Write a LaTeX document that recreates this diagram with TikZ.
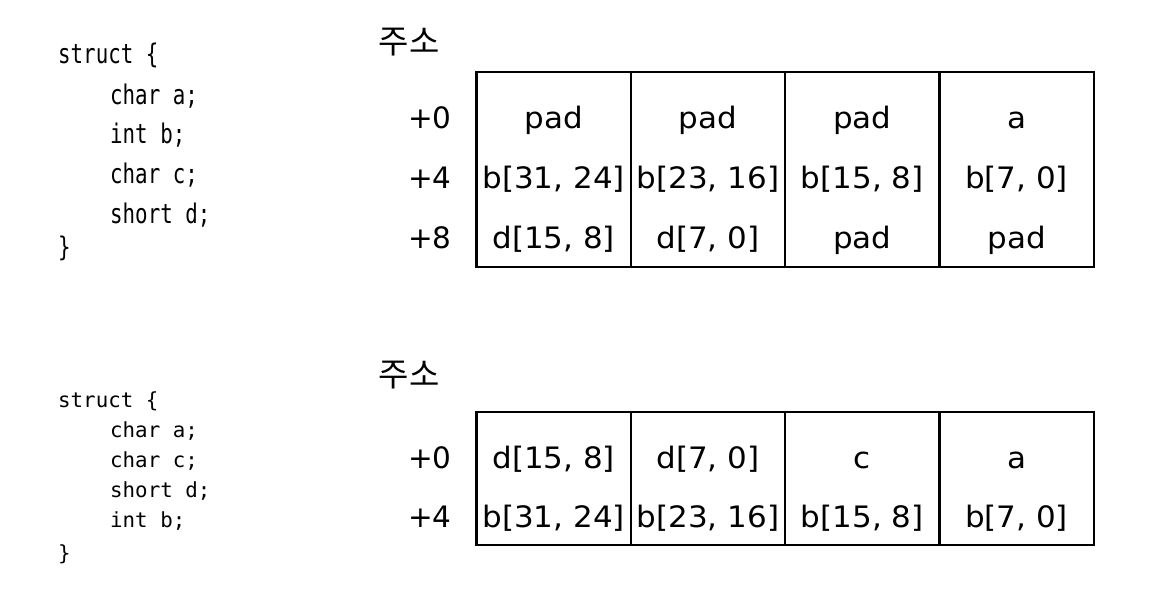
\documentclass[tikz,border=0pt]{standalone}
\usepackage{fontspec}
\usepackage{graphicx}
\setmainfont{DejaVu Sans}
\newfontfamily\codefont{DejaVu Sans Mono}
\newfontfamily\krfont{Noto Sans CJK KR}
\newcommand{\tallcode}[1]{\scalebox{1}[1.3]{#1}}
\newcommand{\widecell}[1]{\scalebox{1.05}[1]{#1}}
\begin{document}
\begin{tikzpicture}[x=1pt,y=-1pt,
  code/.style={anchor=base west,inner sep=0pt,font=\codefont\fontsize{20.8}{24}\selectfont},
  cell/.style={anchor=base,inner sep=0pt,font=\fontsize{29.5}{36}\selectfont},
  offs/.style={anchor=base,inner sep=0pt,font=\fontsize{29.5}{36}\selectfont},
  addr/.style={inner sep=0pt,font=\krfont\fontsize{33}{38}\selectfont},
  col/.style={draw,line width=2.2pt,inner sep=0pt,minimum width=154.3pt}]
\useasboundingbox (0,0) rectangle (1156,600);
\fill[white] (0,0) rectangle (1156,600);
% ---------- top struct ----------
\node[code] (s1l0) at (58,63) {\tallcode{struct \{}};
\node[code] (s1l1) at (110,104) {\tallcode{char a;}};
\node[code] (s1l2) at (110,143) {\tallcode{int b;}};
\node[code] (s1l3) at (110,183) {\tallcode{char c;}};
\node[code] (s1l4) at (110,223) {\tallcode{short d;}};
\node[code] (s1l5) at (58,256) {\tallcode{\}}};
\node[addr] (addr1) at (409,42) {주소};
\foreach \i/\cx in {1/553.7,2/708.0,3/862.3,4/1016.6}{
  \node[col,minimum height=195.5pt] (t1c\i) at (\cx,169.6) {};
}
\node[offs] (t1o0) at (430,128) {+0};
\node[offs] (t1o4) at (430,188) {+4};
\node[offs] (t1o8) at (430,248) {+8};
\node[cell] (t1r1c1) at (t1c1 |- 0,128) {\widecell{pad}};
\node[cell] (t1r1c2) at (t1c2 |- 0,128) {\widecell{pad}};
\node[cell] (t1r1c3) at (t1c3 |- 0,128) {\widecell{pad}};
\node[cell] (t1r1c4) at (t1c4 |- 0,128) {\widecell{a}};
\node[cell] (t1r2c1) at (t1c1 |- 0,188) {\widecell{b[31, 24]}};
\node[cell] (t1r2c2) at (t1c2 |- 0,188) {\widecell{b[23, 16]}};
\node[cell] (t1r2c3) at (t1c3 |- 0,188) {\widecell{b[15, 8]}};
\node[cell] (t1r2c4) at (t1c4 |- 0,188) {\widecell{b[7, 0]}};
\node[cell] (t1r3c1) at (t1c1 |- 0,248) {\widecell{d[15, 8]}};
\node[cell] (t1r3c2) at (t1c2 |- 0,248) {\widecell{d[7, 0]}};
\node[cell] (t1r3c3) at (t1c3 |- 0,248) {\widecell{pad}};
\node[cell] (t1r3c4) at (t1c4 |- 0,248) {\widecell{pad}};
% ---------- bottom struct ----------
\node[code] (s2l0) at (58,407) {struct \{};
\node[code] (s2l1) at (110,437) {char a;};
\node[code] (s2l2) at (110,467) {char c;};
\node[code] (s2l3) at (110,497) {short d;};
\node[code] (s2l4) at (110,527) {int b;};
\node[code] (s2l5) at (58,560) {\}};
\node[addr] (addr2) at (409,375) {주소};
\foreach \i/\cx in {1/553.7,2/708.0,3/862.3,4/1016.6}{
  \node[col,minimum height=133.3pt] (t2c\i) at (\cx,478.4) {};
}
\node[offs] (t2o0) at (430,468) {+0};
\node[offs] (t2o4) at (430,527) {+4};
\node[cell] (t2r1c1) at (t2c1 |- 0,468) {\widecell{d[15, 8]}};
\node[cell] (t2r1c2) at (t2c2 |- 0,468) {\widecell{d[7, 0]}};
\node[cell] (t2r1c3) at (t2c3 |- 0,468) {\widecell{c}};
\node[cell] (t2r1c4) at (t2c4 |- 0,468) {\widecell{a}};
\node[cell] (t2r2c1) at (t2c1 |- 0,527) {\widecell{b[31, 24]}};
\node[cell] (t2r2c2) at (t2c2 |- 0,527) {\widecell{b[23, 16]}};
\node[cell] (t2r2c3) at (t2c3 |- 0,527) {\widecell{b[15, 8]}};
\node[cell] (t2r2c4) at (t2c4 |- 0,527) {\widecell{b[7, 0]}};
\end{tikzpicture}
\end{document}
